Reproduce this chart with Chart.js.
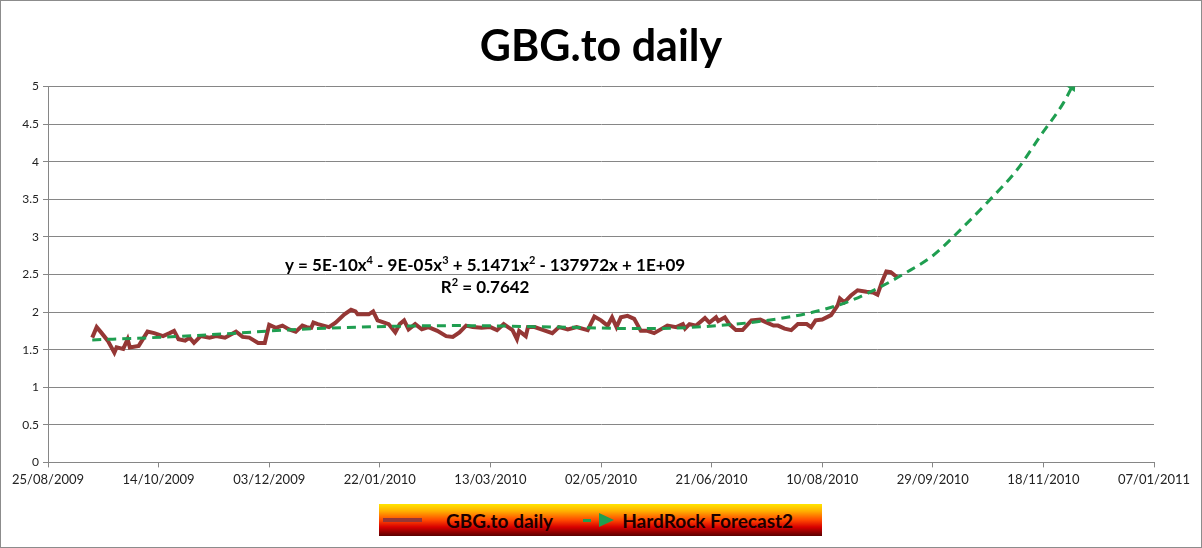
<!DOCTYPE html>
<html>
<head>
<meta charset="utf-8">
<script src="https://cdn.jsdelivr.net/npm/chart.js@4.4.0/dist/chart.umd.min.js"></script>
<style>
    body { margin: 0; background: #fff; }
    #quadro {
        position: relative;
        width: 1202px;
        height: 548px;
        box-sizing: border-box;
        border: 1px solid #8c8c8c;
        font-family: Lato, 'Noto Sans', sans-serif;
    }
    #grafico { position: absolute; left: 0; top: 0; }
    #legenda {
        position: absolute;
        left: 378px;
        top: 503px;
        width: 443px;
        height: 32px;
        box-sizing: border-box;
        padding-left: 4px;
        display: flex;
        align-items: center;
        white-space: nowrap;
        background: linear-gradient(to bottom, #ffe600 0%, #ffb000 22%, #ff4a00 50%, #d80000 72%, #5a0000 100%);
        font-weight: bold;
        font-size: 19px;
        color: #1a0000;
    }
    .item-legenda { display: flex; align-items: center; flex-shrink: 0; margin-right: 30px; }
    .amostra-linha { display: inline-block; width: 39px; height: 4px; margin-right: 24px; }
    .amostra-traco { display: inline-block; width: 8px; height: 3px; margin-right: 8px; }
    .amostra-seta {
        display: inline-block; width: 0; height: 0; margin-right: 8px;
        border-top: 7px solid transparent; border-bottom: 7px solid transparent;
        border-left-width: 15px; border-left-style: solid;
    }
</style>
</head>
<body>
<div id="quadro">
    <canvas id="grafico" width="1200" height="546"></canvas>
    <div id="legenda"></div>
</div>
<script>
// Dados do grafico GBG.to daily

// Serie diaria (cotacao)
const datasCotacao = [
    '2009-09-14', '2009-09-16', '2009-09-18', '2009-09-21', '2009-09-24', '2009-09-25', '2009-09-28', '2009-09-30',
    '2009-10-01', '2009-10-05', '2009-10-09', '2009-10-12', '2009-10-16', '2009-10-19', '2009-10-21', '2009-10-23',
    '2009-10-26', '2009-10-28', '2009-10-30', '2009-11-02', '2009-11-06', '2009-11-09', '2009-11-13', '2009-11-18',
    '2009-11-21', '2009-11-24', '2009-11-28', '2009-12-01', '2009-12-03', '2009-12-06', '2009-12-09', '2009-12-12',
    '2009-12-15', '2009-12-18', '2009-12-20', '2009-12-22', '2009-12-23', '2009-12-25', '2009-12-30', '2010-01-02',
    '2010-01-06', '2010-01-09', '2010-01-11', '2010-01-12', '2010-01-15', '2010-01-17', '2010-01-19', '2010-01-21',
    '2010-01-24', '2010-01-26', '2010-01-29', '2010-01-31', '2010-02-02', '2010-02-04', '2010-02-07', '2010-02-10',
    '2010-02-13', '2010-02-17', '2010-02-21', '2010-02-24', '2010-02-27', '2010-03-02', '2010-03-05', '2010-03-09',
    '2010-03-13', '2010-03-16', '2010-03-19', '2010-03-21', '2010-03-23', '2010-03-25', '2010-03-26', '2010-03-29',
    '2010-03-30', '2010-04-02', '2010-04-06', '2010-04-10', '2010-04-13', '2010-04-17', '2010-04-21', '2010-04-26',
    '2010-04-29', '2010-05-02', '2010-05-05', '2010-05-07', '2010-05-09', '2010-05-11', '2010-05-14', '2010-05-17',
    '2010-05-20', '2010-05-23', '2010-05-26', '2010-05-29', '2010-06-01', '2010-06-05', '2010-06-08', '2010-06-09',
    '2010-06-11', '2010-06-14', '2010-06-18', '2010-06-20', '2010-06-23', '2010-06-24', '2010-06-27', '2010-06-29',
    '2010-07-02', '2010-07-05', '2010-07-09', '2010-07-13', '2010-07-16', '2010-07-19', '2010-07-21', '2010-07-24',
    '2010-07-27', '2010-07-30', '2010-08-03', '2010-08-05', '2010-08-07', '2010-08-10', '2010-08-14', '2010-08-17',
    '2010-08-18', '2010-08-20', '2010-08-23', '2010-08-26', '2010-08-30', '2010-09-02', '2010-09-04', '2010-09-06',
    '2010-09-08', '2010-09-10', '2010-09-13'
];
const valoresCotacao = [
    1.66, 1.80, 1.73, 1.62, 1.46, 1.53, 1.51, 1.64,
    1.53, 1.55, 1.74, 1.72, 1.68, 1.72, 1.75, 1.64,
    1.62, 1.66, 1.59, 1.68, 1.66, 1.68, 1.66, 1.74,
    1.67, 1.66, 1.59, 1.59, 1.83, 1.79, 1.82, 1.77,
    1.74, 1.82, 1.80, 1.79, 1.86, 1.84, 1.80, 1.86,
    1.97, 2.03, 2.01, 1.97, 1.97, 1.97, 2.01, 1.89,
    1.86, 1.84, 1.73, 1.84, 1.89, 1.77, 1.84, 1.77,
    1.80, 1.75, 1.68, 1.67, 1.73, 1.82, 1.80, 1.79,
    1.80, 1.76, 1.84, 1.80, 1.76, 1.64, 1.75, 1.68,
    1.80, 1.80, 1.76, 1.72, 1.80, 1.77, 1.80, 1.76,
    1.94, 1.89, 1.82, 1.93, 1.80, 1.93, 1.95, 1.91,
    1.75, 1.75, 1.72, 1.77, 1.82, 1.80, 1.84, 1.78,
    1.84, 1.82, 1.92, 1.86, 1.93, 1.88, 1.93, 1.84,
    1.76, 1.76, 1.89, 1.90, 1.86, 1.82, 1.82, 1.78,
    1.76, 1.84, 1.84, 1.80, 1.89, 1.90, 1.96, 2.09,
    2.18, 2.13, 2.22, 2.29, 2.27, 2.26, 2.23, 2.40,
    2.54, 2.53, 2.46
];

// Linha de previsao (tracejada, termina em seta)
const datasPrevisao = [
    '2009-09-14', '2009-10-11', '2009-11-13', '2009-12-10', '2010-01-13', '2010-02-27', '2010-04-13',
    '2010-05-20', '2010-06-14', '2010-07-14', '2010-08-06', '2010-08-21', '2010-09-05', '2010-09-16',
    '2010-09-29', '2010-10-12', '2010-10-24', '2010-11-06', '2010-11-17', '2010-11-27', '2010-12-01'
];
const valoresPrevisao = [
    1.63, 1.66, 1.71, 1.76, 1.80, 1.82, 1.80,
    1.78, 1.80, 1.88, 2.00, 2.13, 2.33, 2.51,
    2.75, 3.11, 3.47, 3.89, 4.36, 4.78, 5.00
];

// Rotulos do eixo X (a cada 50 dias)
const rotulosX = [
    '25/08/2009', '14/10/2009', '03/12/2009', '22/01/2010', '13/03/2010', '02/05/2010',
    '21/06/2010', '10/08/2010', '29/09/2010', '18/11/2010', '07/01/2011'
];

// Texto da linha de tendencia
const equacaoTendencia = [
    ['y = 5E-10x', false], ['4', true], [' - 9E-05x', false], ['3', true],
    [' + 5.1471x', false], ['2', true], [' - 137972x + 1E+09', false]
];
const equacaoR2 = [['R', false], ['2', true], [' = 0.7642', false]];

const inicio = Date.parse('2009-08-25');
const paraDia = (texto) => (Date.parse(texto) - inicio) / 86400000;
const montarPontos = (datas, valores) => datas.map((d, i) => ({ x: paraDia(d), y: valores[i] }));

const fonte = "Lato, 'Noto Sans', sans-serif";

// Desenhar texto com sobrescritos centralizado
const desenharTextoSobrescrito = (ctx, partes, cx, y, tamanho) => {
    const normal = `bold ${tamanho}px ${fonte}`;
    const pequena = `bold ${Math.round(tamanho * 0.65)}px ${fonte}`;
    let total = 0;
    partes.forEach(([t, sup]) => {
        ctx.font = sup ? pequena : normal;
        total += ctx.measureText(t).width;
    });
    let x = cx - total / 2;
    partes.forEach(([t, sup]) => {
        ctx.font = sup ? pequena : normal;
        ctx.fillText(t, x, sup ? y - tamanho * 0.4 : y);
        x += ctx.measureText(t).width;
    });
};

const pluginEquacao = {
    id: 'equacao',
    afterDatasetsDraw(chart) {
        const { ctx, scales } = chart;
        const cx = scales.x.getPixelForValue(197.6);
        ctx.save();
        ctx.fillStyle = '#000';
        ctx.textBaseline = 'alphabetic';
        desenharTextoSobrescrito(ctx, equacaoTendencia, cx, scales.y.getPixelForValue(2.55), 17);
        desenharTextoSobrescrito(ctx, equacaoR2, cx, scales.y.getPixelForValue(2.26), 17);
        ctx.restore();
    }
};

const corCotacao = '#953735';
const corPrevisao = '#1f9e50';
const ultimo = datasPrevisao.length - 1;

const grafico = new Chart(document.getElementById('grafico').getContext('2d'), {
    type: 'line',
    data: {
        datasets: [{
            label: 'GBG.to daily',
            data: montarPontos(datasCotacao, valoresCotacao),
            borderColor: corCotacao,
            borderWidth: 4,
            pointRadius: 0,
            tension: 0,
            order: 2
        }, {
            label: 'HardRock Forecast2',
            data: montarPontos(datasPrevisao, valoresPrevisao),
            borderColor: corPrevisao,
            backgroundColor: corPrevisao,
            borderWidth: 3,
            borderDash: [9, 6],
            cubicInterpolationMode: 'monotone',
            pointStyle: 'triangle',
            pointRadius: (c) => c.dataIndex === ultimo ? 6 : 0,
            pointRotation: 34,
            pointBorderWidth: 0,
            order: 1
        }]
    },
    options: {
        responsive: false,
        animation: false,
        layout: { padding: { left: 0, right: 0, top: 0, bottom: 54 } },
        scales: {
            x: {
                type: 'linear',
                min: 0,
                max: 500,
                afterBuildTicks: (s) => { s.ticks = rotulosX.map((_, i) => ({ value: i * 50 })); },
                afterFit: (s) => { s.paddingLeft = 0; s.paddingRight = 47; },
                ticks: {
                    callback: (v, i) => rotulosX[i],
                    maxRotation: 0,
                    autoSkip: false,
                    padding: 5,
                    color: '#222',
                    font: { family: fonte, size: 13 }
                },
                grid: { drawOnChartArea: false, tickLength: 5, color: '#868686' },
                border: { color: '#868686' }
            },
            y: {
                min: 0,
                max: 5,
                afterFit: (s) => { s.width = 47; },
                ticks: {
                    stepSize: 0.5,
                    padding: 4,
                    color: '#222',
                    callback: (v) => String(v),
                    font: { family: fonte, size: 12 }
                },
                grid: { tickLength: 5, color: '#868686' },
                border: { color: '#868686' }
            }
        },
        plugins: {
            legend: { display: false },
            tooltip: { enabled: false },
            title: {
                display: true,
                text: 'GBG.to daily',
                color: '#000',
                font: { family: fonte, size: 43, weight: 'bold' },
                padding: { top: 20, bottom: 14 }
            }
        }
    },
    plugins: [pluginEquacao]
});

// Legenda em HTML com fundo em degrade
const montarLegenda = (chart) => {
    const caixa = document.getElementById('legenda');
    caixa.innerHTML = '';
    chart.data.datasets.forEach((ds, i) => {
        const item = document.createElement('span');
        item.className = 'item-legenda';
        if (i === 0) {
            item.innerHTML = `<span class="amostra-linha" style="background:${ds.borderColor}"></span>${ds.label}`;
        } else {
            item.innerHTML = `<span class="amostra-traco" style="background:${ds.borderColor}"></span>` +
                `<span class="amostra-seta" style="border-left-color:${ds.borderColor}"></span>${ds.label}`;
        }
        caixa.appendChild(item);
    });
};

montarLegenda(grafico);
</script>
</body>
</html>
